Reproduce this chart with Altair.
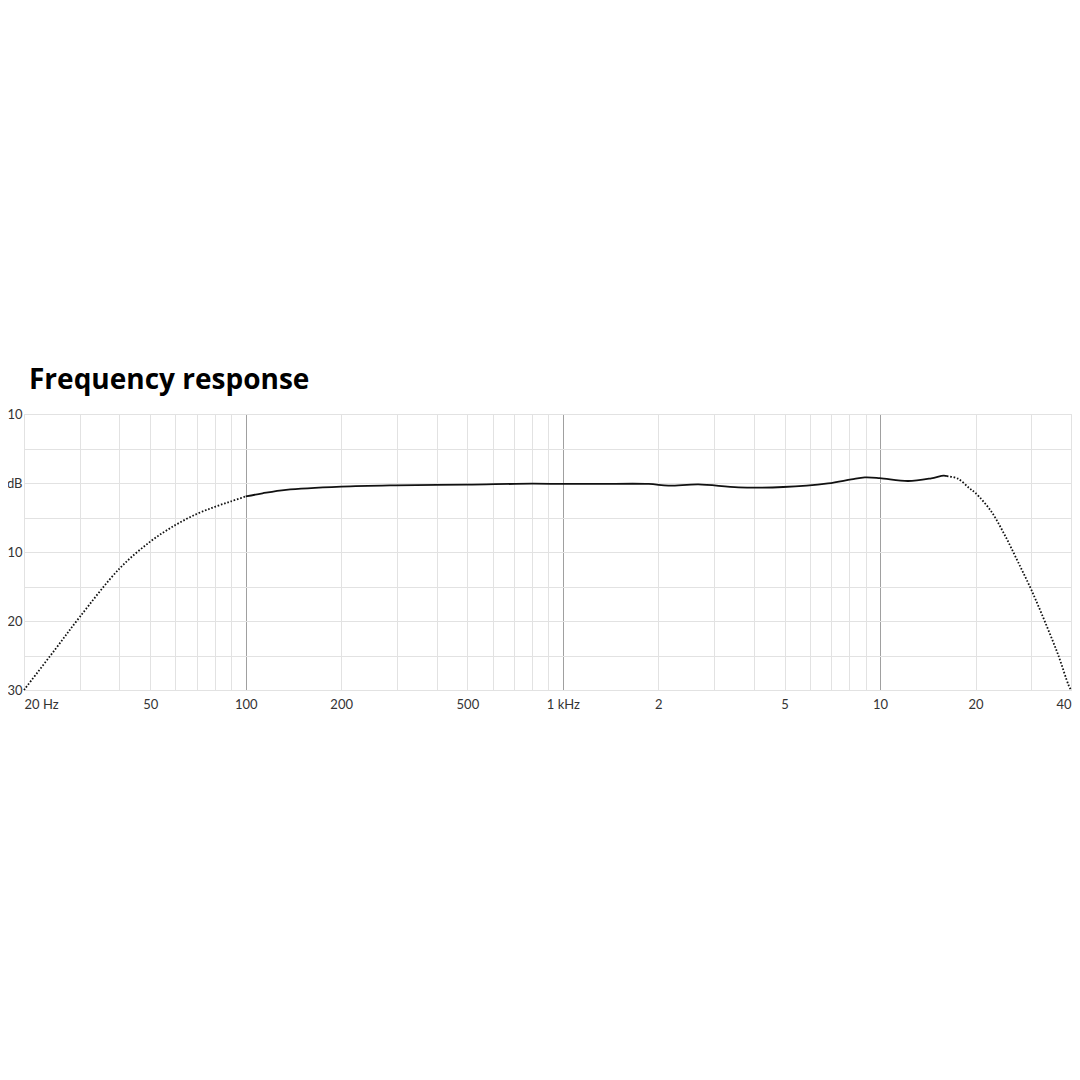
import altair as alt
import pandas as pd

# ---- data ----
low_freq = [20, 25, 30, 40, 50, 60, 70, 80, 90, 100]
low_db = [-30, -24.2, -19.4, -12.4, -8.5, -6.1, -4.5, -3.45, -2.65, -1.95]

mid_freq = [100, 113, 134, 200, 297, 498, 799, 1000, 1298, 1864, 2152, 2675,
            3577, 4954, 6856, 8120, 8953, 9977, 12250, 14500, 15870, 16250]
mid_db = [-1.95, -1.5, -1.0, -0.53, -0.34, -0.24, -0.1, -0.14, -0.14, -0.14, -0.39, -0.19,
          -0.63, -0.58, -0.05, 0.53, 0.82, 0.72, 0.29, 0.68, 1.06, 1.0]

high_freq = [16250, 17600, 19100, 20000, 22400, 24700, 27200, 30000, 33100, 36500, 39300, 40000]
high_db = [1.0, 0.63, -0.73, -1.45, -4.1, -7.5, -11.4, -15.5, -20.1, -25.0, -29.3, -30]

x_grid = [20, 30, 40, 50, 60, 70, 80, 90,
          100, 200, 300, 400, 500, 600, 700, 800, 900,
          1000, 2000, 3000, 4000, 5000, 6000, 7000, 8000, 9000,
          10000, 20000, 30000, 40000]
x_major = [100, 1000, 10000]
x_label_values = [20, 50, 100, 200, 500, 1000, 2000, 5000, 10000, 20000, 40000]
x_label_texts = ["20 Hz", "50", "100", "200", "500", "1 kHz", "2", "5", "10", "20", "40"]

y_grid = [-30, -25, -20, -15, -10, -5, 0, 5, 10]
y_label_values = [-30, -20, -10, 0, 10]
y_label_texts = ["30", "20", "10", "dB", "10"]

title_text = "Frequency response"

# ---- build table ----
rows = []
for seg, fs, ds in (("low", low_freq, low_db), ("mid", mid_freq, mid_db), ("high", high_freq, high_db)):
    for i, (f, d) in enumerate(zip(fs, ds)):
        rows.append({"seg": seg, "f": f, "db": d, "i": i})
df = pd.DataFrame(rows)

def expr_map(values, texts):
    parts = []
    for v, t in zip(values, texts):
        parts.append(f"datum.value == {v} ? '{t}'")
    return " : ".join(parts) + " : ''"

major_test = " || ".join(f"datum.value == {v}" for v in x_major)

x_enc = alt.X(
    "f:Q",
    scale=alt.Scale(type="log", domain=[20, 40000], nice=False),
    axis=alt.Axis(
        values=x_grid,
        labelExpr=expr_map(x_label_values, x_label_texts),
        title=None,
        ticks=False,
        domain=False,
        grid=True,
        gridColor={"condition": {"test": major_test, "value": "#a0a0a0"}, "value": "#e2e2e2"},
        gridWidth=1,
        labelFont="Lato",
        labelFontSize=13,
        labelColor="#333333",
        labelPadding=8,
        labelFlush=False,
        labelOverlap=False,
        labelAlign={"condition": [
            {"test": "datum.value == 20", "value": "left"},
            {"test": "datum.value == 40000", "value": "right"},
        ], "value": "center"},
        labelBound=False,
    ),
)
y_enc = alt.Y(
    "db:Q",
    scale=alt.Scale(domain=[-30, 10], nice=False, zero=False),
    axis=alt.Axis(
        values=y_grid,
        labelExpr=expr_map(y_label_values, y_label_texts),
        title=None,
        ticks=False,
        domain=False,
        grid=True,
        gridColor="#e2e2e2",
        labelFont="Lato",
        labelFontSize=13,
        labelColor="#333333",
        labelPadding=2,
        labelFlush=False,
        labelOverlap=False,
        labelBound=False,
    ),
)

base = alt.Chart(df).encode(x=x_enc, y=y_enc, order="i:Q")

low = base.transform_filter(alt.datum.seg == "low").mark_line(
    color="#111111", strokeWidth=1.8, strokeDash=[1.6, 1.8], interpolate="catmull-rom"
)
mid = base.transform_filter(alt.datum.seg == "mid").mark_line(
    color="#111111", strokeWidth=1.8, interpolate="catmull-rom"
)
high = base.transform_filter(alt.datum.seg == "high").mark_line(
    color="#111111", strokeWidth=1.8, strokeDash=[1.6, 1.8], interpolate="catmull-rom"
)

chart = (
    alt.layer(low, mid, high)
    .properties(
        width=1047,
        height=276,
        autosize=alt.AutoSizeParams(type="none"),
        padding={"left": 16, "top": 406, "right": 1, "bottom": 60},
        title=alt.TitleParams(
            text=title_text,
            anchor="start",
            frame="group",
            font="Open Sans",
            fontSize=28,
            fontWeight="bold",
            color="#000000",
            offset=13,
            dx=5,
        ),
    )
    .configure_view(stroke="#9a9a9a", strokeWidth=1)
    .configure(background="white")
)

chart.save("out.html", embed_options={"renderer": "svg", "actions": False})
